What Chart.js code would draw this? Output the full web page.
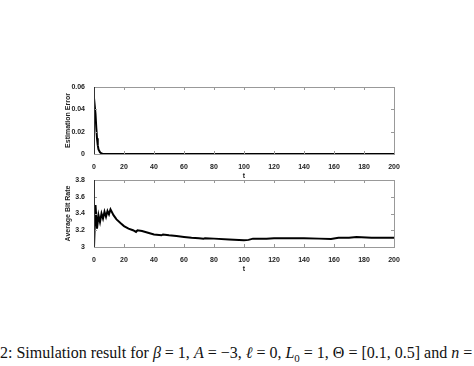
<!DOCTYPE html>
<html lang="en">
<head>
    <meta charset="UTF-8">
    <title>Simulation result</title>
    <script src="https://cdn.jsdelivr.net/npm/chart.js"></script>
    <style>
        body { margin: 0; background: #fff; width: 474px; height: 366px; overflow: hidden; position: relative; }
        .box { position: absolute; left: 64px; width: 341px; height: 100px; }
        #caption {
            position: absolute; left: 0px; top: 344px; white-space: nowrap;
            font-family: "Liberation Serif", "DejaVu Serif", serif; font-size: 16px; color: #111;
        }
    </style>
</head>
<body>
    <div class="box" style="top:80px"><canvas id="errChart"></canvas></div>
    <div class="box" style="top:173px"><canvas id="rateChart"></canvas></div>
    <div id="caption">2: Simulation result for <i>β</i> = 1, <i>A</i> = −3, <i>ℓ</i> = 0, <i>L</i><sub style="font-size:11px">0</sub> = 1, Θ = [0.1, 0.5] and <i>n</i> =</div>

    <script>
        // estimation error vs t
        let errT = [0, 0.5, 1, 1.5, 2, 2.5, 3, 4, 5, 6, 200];
        let errVals = [0.05, 0.05, 0.036, 0.024, 0.014, 0.008, 0.004, 0.0015, 0.0005, 0, 0];

        // average bit rate vs t
        let rateT = [0, 1, 2, 3, 4, 5, 6, 7, 8, 9, 10, 11, 13, 15, 18, 20, 23, 26, 28, 29, 32, 36, 40, 45, 46, 50, 55, 60, 65, 70, 73, 74, 80, 90, 100, 103, 106, 115, 120, 130, 140, 150, 158, 163, 170, 175, 185, 195, 200];
        let rateVals = [3.0, 3.5, 3.22, 3.38, 3.3, 3.4, 3.34, 3.42, 3.36, 3.43, 3.39, 3.45, 3.38, 3.33, 3.28, 3.25, 3.22, 3.2, 3.18, 3.2, 3.19, 3.17, 3.15, 3.14, 3.15, 3.14, 3.13, 3.12, 3.11, 3.105, 3.1, 3.105, 3.1, 3.09, 3.08, 3.085, 3.1, 3.1, 3.105, 3.105, 3.105, 3.1, 3.095, 3.11, 3.11, 3.12, 3.11, 3.11, 3.11];

        let xTicks = [0, 20, 40, 60, 80, 100, 120, 140, 160, 180, 200];
        let errTicks = [0, 0.02, 0.04, 0.06];
        let rateTicks = [3, 3.2, 3.4, 3.6, 3.8];

        const tickFont = { family: "Liberation Sans, Arial, sans-serif", size: 7, weight: "bold" };

        // MATLAB-like box with inward ticks
        const boxPlugin = {
            id: "box",
            afterDraw(chart) {
                const a = chart.chartArea, ctx = chart.ctx;
                const xs = chart.scales.x, ys = chart.scales.y;
                ctx.save();
                ctx.strokeStyle = "#999";
                ctx.lineWidth = 1;
                ctx.strokeRect(a.left + 0.5, a.top + 0.5, a.right - a.left, a.bottom - a.top);
                ctx.beginPath();
                xs.ticks.forEach(t => {
                    const px = Math.round(xs.getPixelForValue(t.value)) + 0.5;
                    ctx.moveTo(px, a.bottom); ctx.lineTo(px, a.bottom - 3);
                    ctx.moveTo(px, a.top); ctx.lineTo(px, a.top + 3);
                });
                ys.ticks.forEach(t => {
                    const py = Math.round(ys.getPixelForValue(t.value)) + 0.5;
                    ctx.moveTo(a.left, py); ctx.lineTo(a.left + 3, py);
                    ctx.moveTo(a.right, py); ctx.lineTo(a.right - 3, py);
                });
                ctx.stroke();
                ctx.strokeStyle = "#333";
                ctx.beginPath();
                ctx.moveTo(a.left + 0.5, a.top); ctx.lineTo(a.left + 0.5, a.bottom);
                ctx.stroke();
                ctx.restore();
            }
        };

        function makeChart(id, tVals, yVals, yMin, yMax, yTickVals, yTitle, decimals) {
            const ctx = document.getElementById(id).getContext("2d");
            return new Chart(ctx, {
                type: "line",
                data: {
                    datasets: [{
                        data: tVals.map((t, i) => ({ x: t, y: yVals[i] })),
                        borderColor: "#000",
                        borderWidth: 2,
                        pointRadius: 0,
                        tension: 0,
                        fill: false
                    }]
                },
                options: {
                    responsive: true,
                    maintainAspectRatio: false,
                    animation: false,
                    layout: { padding: { top: 7, right: 11, left: 0, bottom: 0 } },
                    plugins: { legend: { display: false }, tooltip: { enabled: false } },
                    scales: {
                        x: {
                            type: "linear", min: 0, max: 200,
                            afterBuildTicks: s => { s.ticks = xTicks.map(v => ({ value: v })); },
                            afterFit: s => { s.height = 26; },
                            grid: { display: false },
                            border: { display: false },
                            ticks: { font: tickFont, color: "#222", padding: 1, maxRotation: 0 },
                            title: { display: true, text: "t", font: tickFont, color: "#222", padding: 0 }
                        },
                        y: {
                            min: yMin, max: yMax,
                            afterBuildTicks: s => { s.ticks = yTickVals.map(v => ({ value: v })); },
                            afterFit: s => { s.width = 30; },
                            grid: { display: false },
                            border: { display: false },
                            ticks: {
                                font: tickFont, color: "#222", padding: 1,
                                callback: v => (v === 0 || v === 3) ? String(v) : v.toFixed(decimals)
                            },
                            title: { display: true, text: yTitle, font: tickFont, color: "#222", padding: 0 }
                        }
                    }
                },
                plugins: [boxPlugin]
            });
        }

        makeChart("errChart", errT, errVals, 0, 0.06, errTicks, "Estimation Error", 2);
        makeChart("rateChart", rateT, rateVals, 3, 3.8, rateTicks, "Average Bit Rate", 1);
    </script>
</body>
</html>
